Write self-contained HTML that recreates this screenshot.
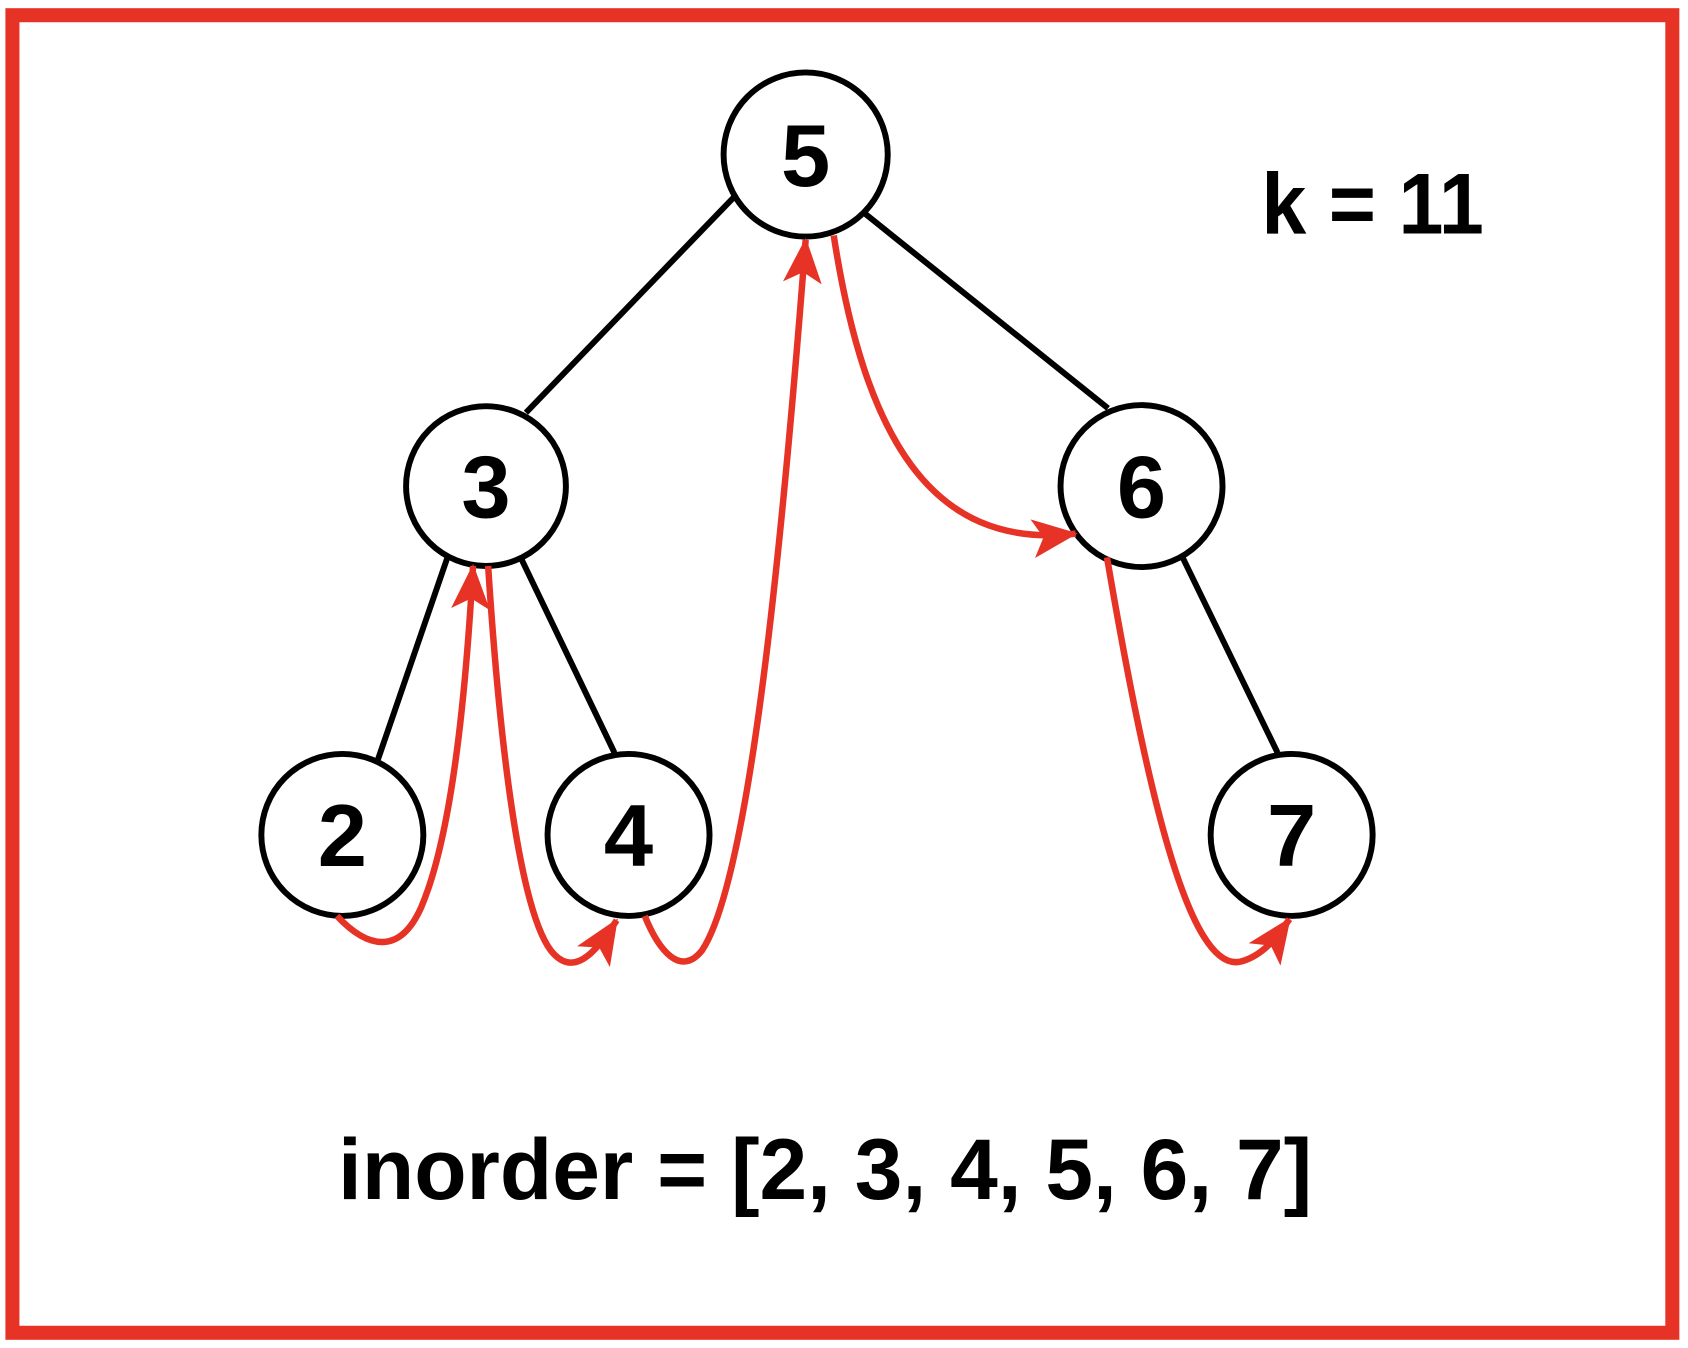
<!DOCTYPE html>
<html><head><meta charset="utf-8"><style>html,body{margin:0;padding:0;background:#fff}svg{display:block}</style></head>
<body>
<svg width="1688" height="1348" viewBox="0 0 1563 1248" xmlns="http://www.w3.org/2000/svg">
<defs>
<marker id="a" markerUnits="userSpaceOnUse" markerWidth="44" markerHeight="36" refX="40" refY="18" orient="auto">
<path d="M0,0 L42,18 L0,36 L10,18 z" fill="#e63325"/>
</marker>
</defs>
<rect x="0" y="0" width="1563" height="1248" fill="#fff"/>
<rect x="11.5" y="14" width="1537" height="1220" fill="none" stroke="#e63325" stroke-width="13"/>
<g stroke="#000" stroke-width="5.5" fill="none">
<line x1="680" y1="182" x2="487" y2="382"/>
<line x1="800" y1="197" x2="1026" y2="378"/>
<line x1="414" y1="517" x2="350" y2="703"/>
<line x1="483" y1="518" x2="569" y2="697"/>
<line x1="1095" y1="516" x2="1183" y2="697"/>
</g>
<g stroke="#000" stroke-width="5.5" fill="#fff">
<circle cx="746" cy="143" r="76"/>
<circle cx="450" cy="450" r="74"/>
<circle cx="1057" cy="450" r="75"/>
<circle cx="317" cy="773" r="75"/>
<circle cx="582" cy="773" r="75"/>
<circle cx="1196" cy="773" r="75"/>
</g>
<g stroke="#e63325" stroke-width="6" fill="none" marker-end="url(#a)">
<path d="M312,848 C340,878 370,885 390,840 C420,770 432,630 438,524"/>
<path d="M452,524 C462,680 480,840 510,880 C530,905 550,885 571,852"/>
<path d="M597,848 C610,880 630,905 650,880 C690,820 720,560 746,222"/>
<path d="M772,218 C800,400 860,510 996,494"/>
<path d="M1025,516 C1060,720 1100,905 1150,890 C1170,884 1182,868 1194,851"/>
</g>
<g font-family="Liberation Sans, Arial, sans-serif" font-weight="bold" fill="#000" text-anchor="middle" font-size="82">
<text x="746" y="172">5</text>
<text x="450" y="479">3</text>
<text x="1057" y="479">6</text>
<text x="317" y="802">2</text>
<text x="582" y="802">4</text>
<text x="1196" y="802">7</text>
</g>
<g font-family="Liberation Sans, Arial, sans-serif" font-weight="bold" fill="#000" font-size="80">
<text x="1168" y="216" textLength="206" lengthAdjust="spacingAndGlyphs">k = 11</text>
<text x="313" y="1110" textLength="902" lengthAdjust="spacingAndGlyphs">inorder = [2, 3, 4, 5, 6, 7]</text>
</g>
</svg>
</body></html>
